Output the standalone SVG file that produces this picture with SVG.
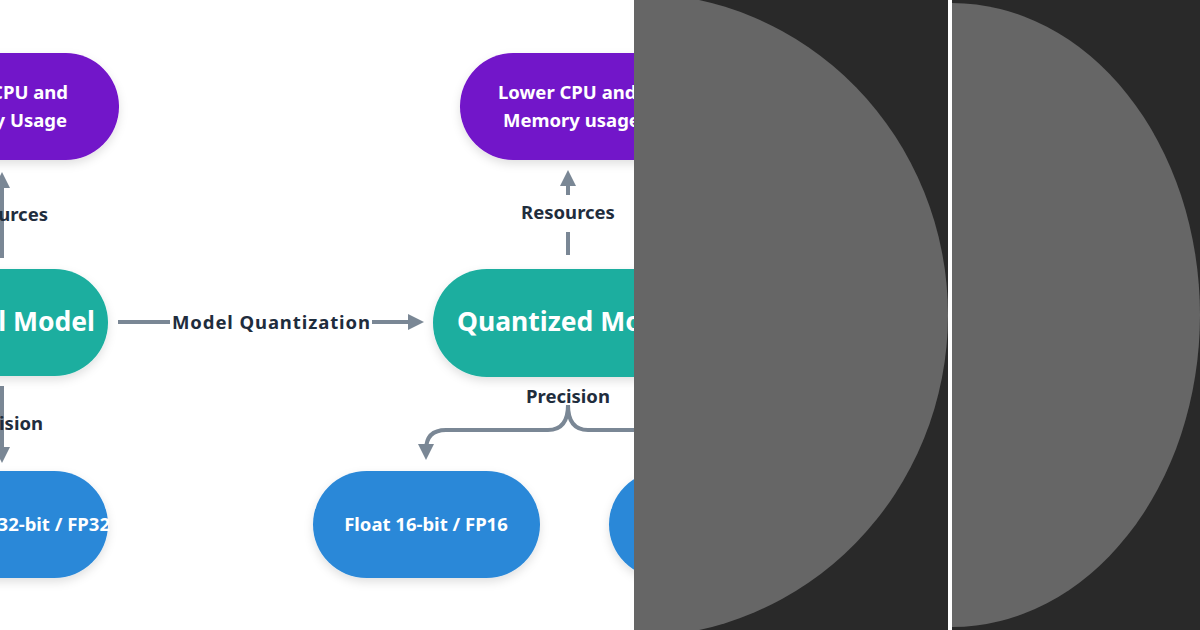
<svg xmlns="http://www.w3.org/2000/svg" width="1200" height="630" viewBox="0 0 1200 630">
<style>
text{font-family:"Noto Sans","DejaVu Sans",sans-serif;font-weight:bold}
.nt{fill:#fff;font-size:18.5px}
.big{fill:#fff;font-size:26.5px}
.lb{fill:#1f2d3d;font-size:18.5px}
.ln{fill:none;stroke:#7a8795;stroke-width:4}
</style>
<defs>
<marker id="ah" viewBox="0 0 10 10" refX="5" refY="5" markerWidth="4" markerHeight="4" orient="auto"><path d="M0,0L10,5L0,10z" fill="#7a8795"/></marker>
<filter id="sh" x="-10%" y="-10%" width="120%" height="130%"><feDropShadow dx="0" dy="4" stdDeviation="5" flood-color="#000" flood-opacity="0.12"/></filter>
</defs>
<rect width="1200" height="630" fill="#fff"/>
<g id="connectors">
<path class="ln" d="M2,258V180" marker-end="url(#ah)"/>
<path class="ln" d="M2,386V455" marker-end="url(#ah)"/>
<path class="ln" d="M118,322H170"/>
<path class="ln" d="M372,322H416" marker-end="url(#ah)"/>
<path class="ln" d="M568,255V232"/>
<path class="ln" d="M568,195V178" marker-end="url(#ah)"/>
<path class="ln" d="M568,405Q568,430 548,430H446Q426,430 426,450V452" marker-end="url(#ah)"/>
<path class="ln" d="M568,405Q568,430 588,430H640"/>
</g>
<g id="n-higher"><rect x="-140" y="53" width="259" height="107" rx="53.5" fill="#7212c9" filter="url(#sh)"/><text class="nt" x="68" y="99" text-anchor="end">Higher CPU and</text><text class="nt" x="67" y="127" text-anchor="end">Memory Usage</text></g>
<g id="n-original"><rect x="-150" y="269" width="258" height="107" rx="53.5" fill="#1aae9f" filter="url(#sh)"/><text class="big" x="95" y="331" text-anchor="end">Original Model</text></g>
<g id="n-fp32"><rect x="-150" y="471" width="258" height="107" rx="53.5" fill="#2b88d8" filter="url(#sh)"/><text class="nt" x="110" y="531" text-anchor="end">Float 32-bit / FP32</text></g>
<g id="n-lower"><rect x="460" y="53" width="260" height="107" rx="53.5" fill="#7212c9" filter="url(#sh)"/><text class="nt" x="498" y="99">Lower CPU and</text><text class="nt" x="503" y="127">Memory usage</text></g>
<g id="n-quant"><rect x="433" y="269" width="320" height="108" rx="54" fill="#1aae9f" filter="url(#sh)"/><text class="big" x="457" y="331">Quantized Model</text></g>
<g id="n-fp16"><rect x="313" y="471" width="227" height="107" rx="53.5" fill="#2b88d8" filter="url(#sh)"/><text class="nt" x="426" y="531" text-anchor="middle">Float 16-bit / FP16</text></g>
<g id="n-int8"><rect x="609" y="471" width="227" height="107" rx="53.5" fill="#2b88d8" filter="url(#sh)"/></g>
<g id="labels">
<text class="lb" x="48" y="221" text-anchor="end">Resources</text>
<text class="lb" x="43" y="430" text-anchor="end">Precision</text>
<text class="lb" x="271" y="329" text-anchor="middle" textLength="198">Model Quantization</text>
<text class="lb" x="568" y="219" text-anchor="middle">Resources</text>
<text class="lb" x="568" y="403" text-anchor="middle">Precision</text>
</g>
<g id="panel">
<rect x="634" y="0" width="566" height="630" fill="#292929"/>
<clipPath id="c1"><rect x="634" y="0" width="314" height="630"/></clipPath>
<clipPath id="c2"><rect x="952" y="0" width="248" height="630"/></clipPath>
<ellipse cx="634" cy="315" rx="314" ry="322" fill="#666" clip-path="url(#c1)"/>
<ellipse cx="952" cy="315" rx="248" ry="312" fill="#666" clip-path="url(#c2)"/>
<rect x="948" y="0" width="4" height="630" fill="#fff"/>
</g>
</svg>
